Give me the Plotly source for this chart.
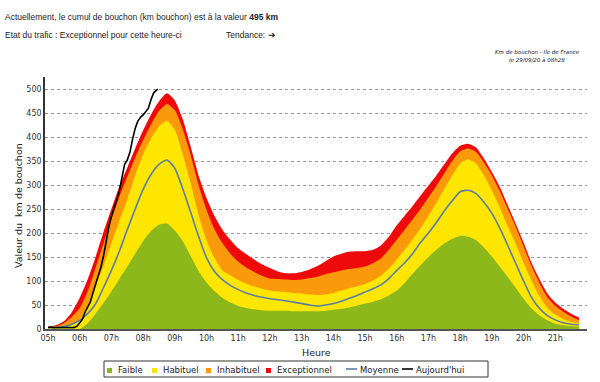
import plotly.graph_objects as go

# ---- data (km de bouchon, quarter-hour grid from 05h00 to 21h45) ----
hours = [5 + 0.25 * i for i in range(68)]

exceptionnel_top = [5, 8, 16, 35, 65, 103, 150, 202, 250, 297, 336, 376, 414, 447, 474, 491,
                    476, 437, 380, 320, 273, 236, 207, 186, 168, 156, 145, 135, 127, 120, 116, 116,
                    119, 124, 131, 141, 151, 157, 161, 162, 162, 165, 174, 192, 216, 236, 256, 278,
                    299, 320, 343, 366, 382, 386, 378, 355, 327, 296, 258, 220, 180, 138, 104, 74,
                    55, 42, 32, 24]
inhabituel_top = [4, 6, 12, 25, 43, 78, 127, 178, 228, 275, 317, 357, 393, 426, 454, 469,
                  456, 416, 362, 300, 248, 208, 179, 157, 140, 128, 119, 111, 105, 104, 103, 102,
                  103, 106, 109, 114, 118, 122, 125, 127, 130, 137, 147, 165, 186, 207, 228, 250,
                  274, 298, 324, 350, 370, 376, 369, 347, 320, 287, 250, 213, 172, 131, 96, 66,
                  48, 36, 26, 18]
habituel_top = [3, 4, 7, 10, 20, 48, 91, 131, 178, 225, 270, 320, 364, 397, 422, 434,
                415, 364, 304, 238, 185, 148, 122, 112, 102, 95, 89, 84, 80, 78, 77, 75,
                74, 72, 71, 72, 75, 80, 85, 89, 94, 101, 111, 126, 145, 165, 187, 210,
                236, 263, 292, 320, 345, 353, 345, 320, 289, 253, 214, 178, 138, 101, 68, 44,
                30, 21, 15, 12]
faible_top = [1, 1, 1, 1, 0, 12, 32, 54, 78, 104, 130, 157, 183, 204, 217, 220,
              205, 183, 152, 121, 97, 79, 65, 55, 48, 44, 41, 39, 38, 38, 38, 37,
              37, 37, 37, 38, 40, 42, 45, 49, 53, 57, 62, 70, 80, 96, 115, 133,
              150, 165, 178, 188, 194, 192, 185, 170, 151, 130, 108, 86, 63, 43, 28, 18,
              11, 8, 6, 5]
moyenne = [3, 3, 5, 10, 18, 32, 52, 86, 122, 162, 207, 250, 291, 322, 343, 352,
           335, 292, 243, 193, 148, 120, 103, 91, 82, 75, 70, 66, 63, 61, 59, 56,
           53, 50, 48, 50, 53, 58, 64, 70, 77, 84, 92, 105, 122, 138, 157, 180,
           200, 222, 246, 267, 286, 289, 282, 264, 241, 210, 174, 137, 100, 66, 43, 28,
           19, 13, 10, 9]

today_time = ["05:00", "05:05", "05:10", "05:15", "05:20", "05:25", "05:30", "05:35", "05:40",
              "05:45", "05:50", "05:55", "06:00", "06:05", "06:10", "06:15", "06:20", "06:25",
              "06:30", "06:35", "06:40", "06:45", "06:50", "06:55", "07:00", "07:05", "07:10",
              "07:15", "07:20", "07:25", "07:30", "07:35", "07:40", "07:45", "07:50", "07:55",
              "08:00", "08:05", "08:10", "08:15", "08:20", "08:25", "08:28"]
today_values = [3, 4, 3, 3, 2, 3, 2, 2, 3, 2, 3, 6, 12, 20, 35, 45, 56, 75,
                92, 108, 128, 152, 185, 212, 235, 250, 268, 288, 318, 343, 352, 368, 395, 418,
                433, 441, 446, 452, 460, 478, 492, 497, 500]

tick_hours = list(range(5, 22))
tick_labels = ["%02dh" % h for h in tick_hours]

legend_names = ["Faible", "Habituel", "Inhabituel", "Exceptionnel", "Moyenne", "Aujourd'hui"]
colors = {"Faible": "#8DB81C", "Habituel": "#FFE600", "Inhabituel": "#FA9A0A",
          "Exceptionnel": "#EE0A0A", "Moyenne": "#5A7EA4", "Aujourd'hui": "#000000"}

today_hours = [int(t[:2]) + int(t[3:]) / 60 for t in today_time]

FONT = "DejaVu Sans"
fig = go.Figure()

for name, ys in [("Exceptionnel", exceptionnel_top), ("Inhabituel", inhabituel_top),
                 ("Habituel", habituel_top), ("Faible", faible_top)]:
    fig.add_trace(go.Scatter(x=hours, y=ys, mode="lines", fill="tozeroy",
                             line=dict(width=0, shape="spline", smoothing=0.6),
                             fillcolor=colors[name], name=name, showlegend=False,
                             hoverinfo="skip"))

fig.add_trace(go.Scatter(x=hours, y=moyenne, mode="lines", name="Moyenne", showlegend=False,
                         line=dict(color=colors["Moyenne"], width=1.6, shape="spline", smoothing=0.6)))
fig.add_trace(go.Scatter(x=today_hours, y=today_values, mode="lines", name="Aujourd'hui",
                         showlegend=False, line=dict(color="#000000", width=1.6)))

# ---- layout geometry (pixels) ----
W, H = 600, 382
ML, MR, MT, MB = 45, 13, 77, 53
PW, PH = W - ML - MR, H - MT - MB


def px(x):
    return (x - ML) / PW


def py(y):
    return (H - MB - y) / PH


TOPFONT = dict(family="Liberation Sans", size=8.5, color="#222")
annotations = [
    dict(text="Actuellement, le cumul de bouchon (km bouchon) est à la valeur <b>495 km</b>",
         x=px(3), y=py(17), xanchor="left", yanchor="middle", font=TOPFONT),
    dict(text="Etat du trafic : Exceptionnel pour cette heure-ci",
         x=px(3), y=py(35), xanchor="left", yanchor="middle", font=TOPFONT),
    dict(text="Tendance: ➔", x=px(224), y=py(35), xanchor="left", yanchor="middle", font=TOPFONT),
    dict(text="<i>Km de bouchon - Ile de France</i>", x=px(537), y=py(52),
         xanchor="center", yanchor="middle", font=dict(family=FONT, size=5.5, color="#111")),
    dict(text="<i>le 29/09/20 à 08h28</i>", x=px(537), y=py(60),
         xanchor="center", yanchor="middle", font=dict(family=FONT, size=5.5, color="#111")),
    dict(text="Valeur du  km de bouchon", x=px(18), y=py(206), textangle=-90,
         xanchor="center", yanchor="middle", font=dict(family=FONT, size=9.5, color="#222")),
    dict(text="Heure", x=px(316), y=py(352), xanchor="center", yanchor="middle",
         font=dict(family=FONT, size=9.5, color="#222")),
]

# ---- custom compact legend ----
shapes = [dict(type="rect", xref="paper", yref="paper", x0=px(104), x1=px(488),
               y0=py(377), y1=py(361), line=dict(color="#333", width=1), fillcolor="white")]
legend_x = {"Faible": 107, "Habituel": 152, "Inhabituel": 206, "Exceptionnel": 266,
            "Moyenne": 346, "Aujourd'hui": 402}
for name in legend_names:
    x0 = legend_x[name]
    if name in ("Moyenne", "Aujourd'hui"):
        shapes.append(dict(type="line", xref="paper", yref="paper", x0=px(x0), x1=px(x0 + 11),
                           y0=py(369), y1=py(369), line=dict(color=colors[name], width=1.6)))
        tx = x0 + 12
    else:
        shapes.append(dict(type="rect", xref="paper", yref="paper", x0=px(x0), x1=px(x0 + 5),
                           y0=py(373), y1=py(368), line=dict(width=0), fillcolor=colors[name]))
        tx = x0 + 9
    annotations.append(dict(text=name, x=px(tx), y=py(369.5), xanchor="left", yanchor="middle",
                            font=dict(family=FONT, size=8.5, color="#222")))

for a in annotations:
    a.update(xref="paper", yref="paper", showarrow=False)

fig.update_layout(
    width=W, height=H, margin=dict(l=ML, r=MR, t=MT, b=MB),
    paper_bgcolor="white", plot_bgcolor="white", showlegend=False,
    annotations=annotations, shapes=shapes,
    xaxis=dict(range=[5 - 3 / 31.7, 22], tickvals=tick_hours, ticktext=tick_labels,
               showgrid=False, zeroline=False, showline=True, linecolor="#555", linewidth=2,
               ticks="", tickfont=dict(family=FONT, size=8, color="#333")),
    yaxis=dict(range=[0, 525], tickvals=list(range(0, 501, 50)), showgrid=True,
               gridcolor="#999", griddash="dot", gridwidth=1, zeroline=False,
               showline=True, linecolor="#333", linewidth=1.5, ticks="",
               tickfont=dict(family=FONT, size=8, color="#333")),
)

fig.write_html("out.html", config={"displayModeBar": False},
               post_script="document.body.style.margin='0';document.body.style.overflow='hidden';")
